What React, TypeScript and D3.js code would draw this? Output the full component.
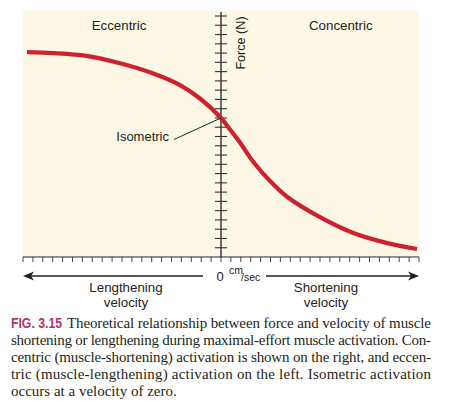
import * as React from 'react';
import * as d3 from 'd3';

// curve: velocity (tick units, cm/sec) vs force (tick units)
const velocity = [-19.6, -16.9, -13.6, -10.2, -6.84, -4.14, -2.12, 0, 0.91, 1.92, 3.23, 4.95, 6.67, 10.0, 13.3, 16.8, 19.8];
const force = [22.1, 22.0, 21.7, 20.9, 19.8, 18.55, 17.1, 15.0, 13.75, 12.35, 10.3, 8.2, 6.5, 4.3, 2.62, 1.5, 0.86];

const forceTicks = d3.range(1, 27);
const velocityTicks = d3.range(-20, 21);

const regionLabels = ['Eccentric', 'Concentric'];
const regionAt = [-10.3, 12.1];
const velocityLabels = [['Lengthening', 'velocity'], ['Shortening', 'velocity']];
const velocityLabelAt = [-9.6, 10.6];

const captionHead = 'FIG. 3.15';
const captionLines = [
  'Theoretical relationship between force and velocity of muscle',
  'shortening or lengthening during maximal-effort muscle activation. Con-',
  'centric (muscle-shortening) activation is shown on the right, and eccen-',
  'tric (muscle-lengthening) activation on the left. Isometric activation',
  'occurs at a velocity of zero.'
];

export default function App() {
  const x = d3.scaleLinear().domain([-20, 20]).range([23, 419]);
  const y = d3.scaleLinear().domain([0, 26]).range([257, 16]);

  const pts = velocity.map((v, i) => [v, force[i]] as [number, number]);
  const line = d3
    .line<[number, number]>()
    .x(d => x(d[0]))
    .y(d => y(d[1]))
    .curve(d3.curveCatmullRom.alpha(0.5));

  const x0 = x(0);
  const yBase = y(0);
  const arrowY = 276;
  const sans = 'Liberation Sans, Arial, sans-serif';
  const serif = 'Liberation Serif, Times New Roman, serif';

  return (
    <svg
      width="449"
      height="416"
      style={{ position: 'absolute', left: 0, top: 0, background: '#fff' }}
    >
      <rect x={x(-20)} y={11} width={x(20) - x(-20)} height={yBase - 11} fill="#fdf7e6" />

      {/* region labels */}
      <g fontFamily={sans} fontSize="13.3" fill="#222" textAnchor="middle">
        {regionLabels.map((t, i) => (
          <text key={t} x={x(regionAt[i])} y={30}>
            {t}
          </text>
        ))}
        <text transform={`translate(${x0 + 24},43) rotate(-90)`} fontSize="12.6">
          Force (N)
        </text>
      </g>

      {/* force axis */}
      <line x1={x0} x2={x0} y1={12} y2={yBase} stroke="#222" strokeWidth="1.3" />
      {forceTicks.map(t => (
        <line key={t} x1={x0 - 6} x2={x0 + 6} y1={y(t)} y2={y(t)} stroke="#333" strokeWidth="1.1" />
      ))}

      {/* velocity axis */}
      <line x1={x(-20)} x2={x(20)} y1={yBase} y2={yBase} stroke="#222" strokeWidth="1.2" />
      {velocityTicks.map(t => (
        <line key={t} x1={x(t)} x2={x(t)} y1={yBase} y2={yBase + 5} stroke="#333" strokeWidth="0.9" />
      ))}

      {/* curve */}
      <path d={line(pts) || ''} fill="none" stroke="#cf2030" strokeWidth="4.2" />

      {/* isometric leader */}
      <line x1={174} y1={139.5} x2={x0} y2={y(15)} stroke="#222" strokeWidth="1" />
      <text x={169} y={141} fontFamily={sans} fontSize="13" fill="#222" textAnchor="end">
        Isometric
      </text>

      {/* velocity arrows */}
      <line x1={x(-20) + 6} x2={203} y1={arrowY} y2={arrowY} stroke="#222" strokeWidth="1.4" />
      <line x1={266} x2={x(20) - 6} y1={arrowY} y2={arrowY} stroke="#222" strokeWidth="1.4" />
      <path
        d={`M${x(-20)},${arrowY} L${x(-20) + 11},${arrowY - 4.5} L${x(-20) + 8},${arrowY} L${x(-20) + 11},${arrowY + 4.5} Z`}
        fill="#222"
      />
      <path
        d={`M${x(20)},${arrowY} L${x(20) - 11},${arrowY - 4.5} L${x(20) - 8},${arrowY} L${x(20) - 11},${arrowY + 4.5} Z`}
        fill="#222"
      />
      <g fontFamily={sans} fill="#222">
        <text x={216.5} y={281} fontSize="13">0</text>
        <text x={229} y={274} fontSize="10.5">cm</text>
        <text x={241} y={281} fontSize="10.5">/sec</text>
      </g>
      <g fontFamily={sans} fontSize="13.3" fill="#222" textAnchor="middle">
        {velocityLabels.map((lines, i) =>
          lines.map((t, j) => (
            <text key={i + '-' + j} x={x(velocityLabelAt[i])} y={292 + j * 15}>
              {t}
            </text>
          ))
        )}
      </g>

      {/* caption */}
      <text
        x={11}
        y={328}
        fontFamily={sans}
        fontWeight="bold"
        fontSize="14"
        fill="#b8336a"
        textLength={51}
        lengthAdjust="spacingAndGlyphs"
      >
        {captionHead}
      </text>
      <g fontFamily={serif} fontSize="15" fill="#231f20">
        {captionLines.map((t, i) => (
          <text
            key={i}
            x={i === 0 ? 67 : 11}
            y={328 + i * 17}
            textLength={i === 4 ? undefined : i === 0 ? 364 : 420}
            lengthAdjust="spacing"
          >
            {t}
          </text>
        ))}
      </g>
    </svg>
  );
}
